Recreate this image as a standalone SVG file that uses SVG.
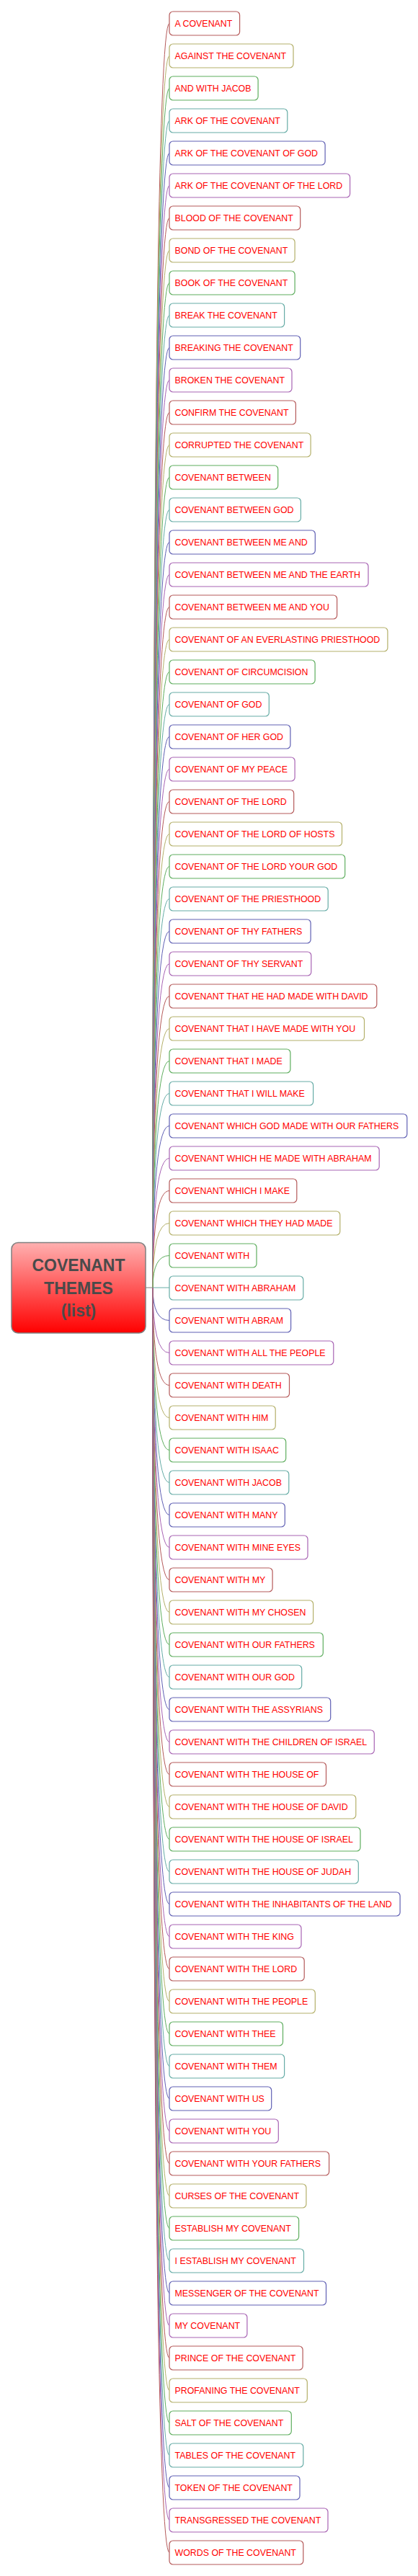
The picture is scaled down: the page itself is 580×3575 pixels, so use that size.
<svg xmlns="http://www.w3.org/2000/svg" width="580" height="3575" viewBox="0 0 580 3575">
<style>
.n rect{fill:#fff;stroke-width:1.2}
.n text{font-family:"Liberation Sans",Arial,sans-serif;font-size:12.4px;fill:#ff0000}
.k0 rect{stroke:#b55a5a}.k1 rect{stroke:#b4b06a}.k2 rect{stroke:#5fae5f}.k3 rect{stroke:#66aca6}.k4 rect{stroke:#6060b4}.k5 rect{stroke:#a864b4}
#edges path{fill:none;stroke-width:1}
.e0{stroke:#b55a5a}.e1{stroke:#b4b06a}.e2{stroke:#5fae5f}.e3{stroke:#66aca6}.e4{stroke:#6060b4}.e5{stroke:#a864b4}
.root text{font-family:"Liberation Sans",Arial,sans-serif;font-size:23px;font-weight:bold;fill:#4a4a4a;text-anchor:middle}
</style>
<defs>
<linearGradient id="rg" x1="0" y1="0" x2="0" y2="1">
<stop offset="0" stop-color="#ffb0b0"/>
<stop offset="1" stop-color="#ff0000"/>
</linearGradient>
</defs>
<g id="edges">
<path d="M202 1787H212" stroke="#808080"/>
<path class="e0" d="M212 1787Q212 32.5 235 32.5"/>
<path class="e1" d="M212 1787Q212 77.5 235 77.5"/>
<path class="e2" d="M212 1787Q212 122.5 235 122.5"/>
<path class="e3" d="M212 1787Q212 167.5 235 167.5"/>
<path class="e4" d="M212 1787Q212 212.5 235 212.5"/>
<path class="e5" d="M212 1787Q212 257.5 235 257.5"/>
<path class="e0" d="M212 1787Q212 302.5 235 302.5"/>
<path class="e1" d="M212 1787Q212 347.5 235 347.5"/>
<path class="e2" d="M212 1787Q212 392.5 235 392.5"/>
<path class="e3" d="M212 1787Q212 437.5 235 437.5"/>
<path class="e4" d="M212 1787Q212 482.5 235 482.5"/>
<path class="e5" d="M212 1787Q212 527.5 235 527.5"/>
<path class="e0" d="M212 1787Q212 572.5 235 572.5"/>
<path class="e1" d="M212 1787Q212 617.5 235 617.5"/>
<path class="e2" d="M212 1787Q212 662.5 235 662.5"/>
<path class="e3" d="M212 1787Q212 707.5 235 707.5"/>
<path class="e4" d="M212 1787Q212 752.5 235 752.5"/>
<path class="e5" d="M212 1787Q212 797.5 235 797.5"/>
<path class="e0" d="M212 1787Q212 842.5 235 842.5"/>
<path class="e1" d="M212 1787Q212 887.5 235 887.5"/>
<path class="e2" d="M212 1787Q212 932.5 235 932.5"/>
<path class="e3" d="M212 1787Q212 977.5 235 977.5"/>
<path class="e4" d="M212 1787Q212 1022.5 235 1022.5"/>
<path class="e5" d="M212 1787Q212 1067.5 235 1067.5"/>
<path class="e0" d="M212 1787Q212 1112.5 235 1112.5"/>
<path class="e1" d="M212 1787Q212 1157.5 235 1157.5"/>
<path class="e2" d="M212 1787Q212 1202.5 235 1202.5"/>
<path class="e3" d="M212 1787Q212 1247.5 235 1247.5"/>
<path class="e4" d="M212 1787Q212 1292.5 235 1292.5"/>
<path class="e5" d="M212 1787Q212 1337.5 235 1337.5"/>
<path class="e0" d="M212 1787Q212 1382.5 235 1382.5"/>
<path class="e1" d="M212 1787Q212 1427.5 235 1427.5"/>
<path class="e2" d="M212 1787Q212 1472.5 235 1472.5"/>
<path class="e3" d="M212 1787Q212 1517.5 235 1517.5"/>
<path class="e4" d="M212 1787Q212 1562.5 235 1562.5"/>
<path class="e5" d="M212 1787Q212 1607.5 235 1607.5"/>
<path class="e0" d="M212 1787Q212 1652.5 235 1652.5"/>
<path class="e1" d="M212 1787Q212 1697.5 235 1697.5"/>
<path class="e2" d="M212 1787Q212 1742.5 235 1742.5"/>
<path class="e3" d="M212 1787L235 1787"/>
<path class="e4" d="M212 1787Q212 1832.5 235 1832.5"/>
<path class="e5" d="M212 1787Q212 1877.5 235 1877.5"/>
<path class="e0" d="M212 1787Q212 1922.5 235 1922.5"/>
<path class="e1" d="M212 1787Q212 1967.5 235 1967.5"/>
<path class="e2" d="M212 1787Q212 2012.5 235 2012.5"/>
<path class="e3" d="M212 1787Q212 2057.5 235 2057.5"/>
<path class="e4" d="M212 1787Q212 2102.5 235 2102.5"/>
<path class="e5" d="M212 1787Q212 2147.5 235 2147.5"/>
<path class="e0" d="M212 1787Q212 2192.5 235 2192.5"/>
<path class="e1" d="M212 1787Q212 2237.5 235 2237.5"/>
<path class="e2" d="M212 1787Q212 2282.5 235 2282.5"/>
<path class="e3" d="M212 1787Q212 2327.5 235 2327.5"/>
<path class="e4" d="M212 1787Q212 2372.5 235 2372.5"/>
<path class="e5" d="M212 1787Q212 2417.5 235 2417.5"/>
<path class="e0" d="M212 1787Q212 2462.5 235 2462.5"/>
<path class="e1" d="M212 1787Q212 2507.5 235 2507.5"/>
<path class="e2" d="M212 1787Q212 2552.5 235 2552.5"/>
<path class="e3" d="M212 1787Q212 2597.5 235 2597.5"/>
<path class="e4" d="M212 1787Q212 2642.5 235 2642.5"/>
<path class="e5" d="M212 1787Q212 2687.5 235 2687.5"/>
<path class="e0" d="M212 1787Q212 2732.5 235 2732.5"/>
<path class="e1" d="M212 1787Q212 2777.5 235 2777.5"/>
<path class="e2" d="M212 1787Q212 2822.5 235 2822.5"/>
<path class="e3" d="M212 1787Q212 2867.5 235 2867.5"/>
<path class="e4" d="M212 1787Q212 2912.5 235 2912.5"/>
<path class="e5" d="M212 1787Q212 2957.5 235 2957.5"/>
<path class="e0" d="M212 1787Q212 3002.5 235 3002.5"/>
<path class="e1" d="M212 1787Q212 3047.5 235 3047.5"/>
<path class="e2" d="M212 1787Q212 3092.5 235 3092.5"/>
<path class="e3" d="M212 1787Q212 3137.5 235 3137.5"/>
<path class="e4" d="M212 1787Q212 3182.5 235 3182.5"/>
<path class="e5" d="M212 1787Q212 3227.5 235 3227.5"/>
<path class="e0" d="M212 1787Q212 3272.5 235 3272.5"/>
<path class="e1" d="M212 1787Q212 3317.5 235 3317.5"/>
<path class="e2" d="M212 1787Q212 3362.5 235 3362.5"/>
<path class="e3" d="M212 1787Q212 3407.5 235 3407.5"/>
<path class="e4" d="M212 1787Q212 3452.5 235 3452.5"/>
<path class="e5" d="M212 1787Q212 3497.5 235 3497.5"/>
<path class="e0" d="M212 1787Q212 3542.5 235 3542.5"/>
</g>
<g id="root" class="root">
<rect x="16" y="1724.5" width="186" height="125.5" rx="9" fill="url(#rg)" stroke="#808080" stroke-width="1.5"/>
<text x="109" y="1764">COVENANT</text>
<text x="109" y="1795.5">THEMES</text>
<text x="109" y="1826.5">(list)</text>
</g>
<g id="n1" class="n k0" transform="translate(235,16)"><rect width="97.6" height="33" rx="5"/><text x="7.5" y="21">A COVENANT</text></g>
<g id="n2" class="n k1" transform="translate(235,61)"><rect width="172" height="33" rx="5"/><text x="7.5" y="21">AGAINST THE COVENANT</text></g>
<g id="n3" class="n k2" transform="translate(235,106)"><rect width="123.1" height="33" rx="5"/><text x="7.5" y="21">AND WITH JACOB</text></g>
<g id="n4" class="n k3" transform="translate(235,151)"><rect width="163.8" height="33" rx="5"/><text x="7.5" y="21">ARK OF THE COVENANT</text></g>
<g id="n5" class="n k4" transform="translate(235,196)"><rect width="216.1" height="33" rx="5"/><text x="7.5" y="21">ARK OF THE COVENANT OF GOD</text></g>
<g id="n6" class="n k5" transform="translate(235,241)"><rect width="250.6" height="33" rx="5"/><text x="7.5" y="21">ARK OF THE COVENANT OF THE LORD</text></g>
<g id="n7" class="n k0" transform="translate(235,286)"><rect width="181.7" height="33" rx="5"/><text x="7.5" y="21">BLOOD OF THE COVENANT</text></g>
<g id="n8" class="n k1" transform="translate(235,331)"><rect width="174.1" height="33" rx="5"/><text x="7.5" y="21">BOND OF THE COVENANT</text></g>
<g id="n9" class="n k2" transform="translate(235,376)"><rect width="174.1" height="33" rx="5"/><text x="7.5" y="21">BOOK OF THE COVENANT</text></g>
<g id="n10" class="n k3" transform="translate(235,421)"><rect width="159.6" height="33" rx="5"/><text x="7.5" y="21">BREAK THE COVENANT</text></g>
<g id="n11" class="n k4" transform="translate(235,466)"><rect width="181.7" height="33" rx="5"/><text x="7.5" y="21">BREAKING THE COVENANT</text></g>
<g id="n12" class="n k5" transform="translate(235,511)"><rect width="170" height="33" rx="5"/><text x="7.5" y="21">BROKEN THE COVENANT</text></g>
<g id="n13" class="n k0" transform="translate(235,556)"><rect width="175.4" height="33" rx="5"/><text x="7.5" y="21">CONFIRM THE COVENANT</text></g>
<g id="n14" class="n k1" transform="translate(235,601)"><rect width="196.1" height="33" rx="5"/><text x="7.5" y="21">CORRUPTED THE COVENANT</text></g>
<g id="n15" class="n k2" transform="translate(235,646)"><rect width="150.7" height="33" rx="5"/><text x="7.5" y="21">COVENANT BETWEEN</text></g>
<g id="n16" class="n k3" transform="translate(235,691)"><rect width="182.4" height="33" rx="5"/><text x="7.5" y="21">COVENANT BETWEEN GOD</text></g>
<g id="n17" class="n k4" transform="translate(235,736)"><rect width="202.3" height="33" rx="5"/><text x="7.5" y="21">COVENANT BETWEEN ME AND</text></g>
<g id="n18" class="n k5" transform="translate(235,781)"><rect width="276" height="33" rx="5"/><text x="7.5" y="21">COVENANT BETWEEN ME AND THE EARTH</text></g>
<g id="n19" class="n k0" transform="translate(235,826)"><rect width="232.6" height="33" rx="5"/><text x="7.5" y="21">COVENANT BETWEEN ME AND YOU</text></g>
<g id="n20" class="n k1" transform="translate(235,871)"><rect width="302.9" height="33" rx="5"/><text x="7.5" y="21">COVENANT OF AN EVERLASTING PRIESTHOOD</text></g>
<g id="n21" class="n k2" transform="translate(235,916)"><rect width="202.1" height="33" rx="5"/><text x="7.5" y="21">COVENANT OF CIRCUMCISION</text></g>
<g id="n22" class="n k3" transform="translate(235,961)"><rect width="138.3" height="33" rx="5"/><text x="7.5" y="21">COVENANT OF GOD</text></g>
<g id="n23" class="n k4" transform="translate(235,1006)"><rect width="167.9" height="33" rx="5"/><text x="7.5" y="21">COVENANT OF HER GOD</text></g>
<g id="n24" class="n k5" transform="translate(235,1051)"><rect width="174.1" height="33" rx="5"/><text x="7.5" y="21">COVENANT OF MY PEACE</text></g>
<g id="n25" class="n k0" transform="translate(235,1096)"><rect width="172.7" height="33" rx="5"/><text x="7.5" y="21">COVENANT OF THE LORD</text></g>
<g id="n26" class="n k1" transform="translate(235,1141)"><rect width="239.5" height="33" rx="5"/><text x="7.5" y="21">COVENANT OF THE LORD OF HOSTS</text></g>
<g id="n27" class="n k2" transform="translate(235,1186)"><rect width="243.7" height="33" rx="5"/><text x="7.5" y="21">COVENANT OF THE LORD YOUR GOD</text></g>
<g id="n28" class="n k3" transform="translate(235,1231)"><rect width="220.2" height="33" rx="5"/><text x="7.5" y="21">COVENANT OF THE PRIESTHOOD</text></g>
<g id="n29" class="n k4" transform="translate(235,1276)"><rect width="196.1" height="33" rx="5"/><text x="7.5" y="21">COVENANT OF THY FATHERS</text></g>
<g id="n30" class="n k5" transform="translate(235,1321)"><rect width="196.8" height="33" rx="5"/><text x="7.5" y="21">COVENANT OF THY SERVANT</text></g>
<g id="n31" class="n k0" transform="translate(235,1366)"><rect width="287.8" height="33" rx="5"/><text x="7.5" y="21">COVENANT THAT HE HAD MADE WITH DAVID</text></g>
<g id="n32" class="n k1" transform="translate(235,1411)"><rect width="270.5" height="33" rx="5"/><text x="7.5" y="21">COVENANT THAT I HAVE MADE WITH YOU</text></g>
<g id="n33" class="n k2" transform="translate(235,1456)"><rect width="167.9" height="33" rx="5"/><text x="7.5" y="21">COVENANT THAT I MADE</text></g>
<g id="n34" class="n k3" transform="translate(235,1501)"><rect width="199.6" height="33" rx="5"/><text x="7.5" y="21">COVENANT THAT I WILL MAKE</text></g>
<g id="n35" class="n k4" transform="translate(235,1546)"><rect width="329.8" height="33" rx="5"/><text x="7.5" y="21">COVENANT WHICH GOD MADE WITH OUR FATHERS</text></g>
<g id="n36" class="n k5" transform="translate(235,1591)"><rect width="291.2" height="33" rx="5"/><text x="7.5" y="21">COVENANT WHICH HE MADE WITH ABRAHAM</text></g>
<g id="n37" class="n k0" transform="translate(235,1636)"><rect width="176.8" height="33" rx="5"/><text x="7.5" y="21">COVENANT WHICH I MAKE</text></g>
<g id="n38" class="n k1" transform="translate(235,1681)"><rect width="236.8" height="33" rx="5"/><text x="7.5" y="21">COVENANT WHICH THEY HAD MADE</text></g>
<g id="n39" class="n k2" transform="translate(235,1726)"><rect width="121" height="33" rx="5"/><text x="7.5" y="21">COVENANT WITH</text></g>
<g id="n40" class="n k3" transform="translate(235,1771)"><rect width="185.8" height="33" rx="5"/><text x="7.5" y="21">COVENANT WITH ABRAHAM</text></g>
<g id="n41" class="n k4" transform="translate(235,1816)"><rect width="168.6" height="33" rx="5"/><text x="7.5" y="21">COVENANT WITH ABRAM</text></g>
<g id="n42" class="n k5" transform="translate(235,1861)"><rect width="227.8" height="33" rx="5"/><text x="7.5" y="21">COVENANT WITH ALL THE PEOPLE</text></g>
<g id="n43" class="n k0" transform="translate(235,1906)"><rect width="166.5" height="33" rx="5"/><text x="7.5" y="21">COVENANT WITH DEATH</text></g>
<g id="n44" class="n k1" transform="translate(235,1951)"><rect width="147.2" height="33" rx="5"/><text x="7.5" y="21">COVENANT WITH HIM</text></g>
<g id="n45" class="n k2" transform="translate(235,1996)"><rect width="161.7" height="33" rx="5"/><text x="7.5" y="21">COVENANT WITH ISAAC</text></g>
<g id="n46" class="n k3" transform="translate(235,2041)"><rect width="165.8" height="33" rx="5"/><text x="7.5" y="21">COVENANT WITH JACOB</text></g>
<g id="n47" class="n k4" transform="translate(235,2086)"><rect width="160.3" height="33" rx="5"/><text x="7.5" y="21">COVENANT WITH MANY</text></g>
<g id="n48" class="n k5" transform="translate(235,2131)"><rect width="192" height="33" rx="5"/><text x="7.5" y="21">COVENANT WITH MINE EYES</text></g>
<g id="n49" class="n k0" transform="translate(235,2176)"><rect width="143.1" height="33" rx="5"/><text x="7.5" y="21">COVENANT WITH MY</text></g>
<g id="n50" class="n k1" transform="translate(235,2221)"><rect width="199.6" height="33" rx="5"/><text x="7.5" y="21">COVENANT WITH MY CHOSEN</text></g>
<g id="n51" class="n k2" transform="translate(235,2266)"><rect width="213.3" height="33" rx="5"/><text x="7.5" y="21">COVENANT WITH OUR FATHERS</text></g>
<g id="n52" class="n k3" transform="translate(235,2311)"><rect width="183.7" height="33" rx="5"/><text x="7.5" y="21">COVENANT WITH OUR GOD</text></g>
<g id="n53" class="n k4" transform="translate(235,2356)"><rect width="223.7" height="33" rx="5"/><text x="7.5" y="21">COVENANT WITH THE ASSYRIANS</text></g>
<g id="n54" class="n k5" transform="translate(235,2401)"><rect width="284.3" height="33" rx="5"/><text x="7.5" y="21">COVENANT WITH THE CHILDREN OF ISRAEL</text></g>
<g id="n55" class="n k0" transform="translate(235,2446)"><rect width="217.5" height="33" rx="5"/><text x="7.5" y="21">COVENANT WITH THE HOUSE OF</text></g>
<g id="n56" class="n k1" transform="translate(235,2491)"><rect width="258.8" height="33" rx="5"/><text x="7.5" y="21">COVENANT WITH THE HOUSE OF DAVID</text></g>
<g id="n57" class="n k2" transform="translate(235,2536)"><rect width="265" height="33" rx="5"/><text x="7.5" y="21">COVENANT WITH THE HOUSE OF ISRAEL</text></g>
<g id="n58" class="n k3" transform="translate(235,2581)"><rect width="262.3" height="33" rx="5"/><text x="7.5" y="21">COVENANT WITH THE HOUSE OF JUDAH</text></g>
<g id="n59" class="n k4" transform="translate(235,2626)"><rect width="320.1" height="33" rx="5"/><text x="7.5" y="21">COVENANT WITH THE INHABITANTS OF THE LAND</text></g>
<g id="n60" class="n k5" transform="translate(235,2671)"><rect width="183" height="33" rx="5"/><text x="7.5" y="21">COVENANT WITH THE KING</text></g>
<g id="n61" class="n k0" transform="translate(235,2716)"><rect width="187.2" height="33" rx="5"/><text x="7.5" y="21">COVENANT WITH THE LORD</text></g>
<g id="n62" class="n k1" transform="translate(235,2761)"><rect width="202.3" height="33" rx="5"/><text x="7.5" y="21">COVENANT WITH THE PEOPLE</text></g>
<g id="n63" class="n k2" transform="translate(235,2806)"><rect width="157.5" height="33" rx="5"/><text x="7.5" y="21">COVENANT WITH THEE</text></g>
<g id="n64" class="n k3" transform="translate(235,2851)"><rect width="159.6" height="33" rx="5"/><text x="7.5" y="21">COVENANT WITH THEM</text></g>
<g id="n65" class="n k4" transform="translate(235,2896)"><rect width="141.7" height="33" rx="5"/><text x="7.5" y="21">COVENANT WITH US</text></g>
<g id="n66" class="n k5" transform="translate(235,2941)"><rect width="151.3" height="33" rx="5"/><text x="7.5" y="21">COVENANT WITH YOU</text></g>
<g id="n67" class="n k0" transform="translate(235,2986)"><rect width="221.6" height="33" rx="5"/><text x="7.5" y="21">COVENANT WITH YOUR FATHERS</text></g>
<g id="n68" class="n k1" transform="translate(235,3031)"><rect width="189.9" height="33" rx="5"/><text x="7.5" y="21">CURSES OF THE COVENANT</text></g>
<g id="n69" class="n k2" transform="translate(235,3076)"><rect width="179.6" height="33" rx="5"/><text x="7.5" y="21">ESTABLISH MY COVENANT</text></g>
<g id="n70" class="n k3" transform="translate(235,3121)"><rect width="186.5" height="33" rx="5"/><text x="7.5" y="21">I ESTABLISH MY COVENANT</text></g>
<g id="n71" class="n k4" transform="translate(235,3166)"><rect width="217.5" height="33" rx="5"/><text x="7.5" y="21">MESSENGER OF THE COVENANT</text></g>
<g id="n72" class="n k5" transform="translate(235,3211)"><rect width="107.9" height="33" rx="5"/><text x="7.5" y="21">MY COVENANT</text></g>
<g id="n73" class="n k0" transform="translate(235,3256)"><rect width="185.1" height="33" rx="5"/><text x="7.5" y="21">PRINCE OF THE COVENANT</text></g>
<g id="n74" class="n k1" transform="translate(235,3301)"><rect width="191.3" height="33" rx="5"/><text x="7.5" y="21">PROFANING THE COVENANT</text></g>
<g id="n75" class="n k2" transform="translate(235,3346)"><rect width="169.3" height="33" rx="5"/><text x="7.5" y="21">SALT OF THE COVENANT</text></g>
<g id="n76" class="n k3" transform="translate(235,3391)"><rect width="185.8" height="33" rx="5"/><text x="7.5" y="21">TABLES OF THE COVENANT</text></g>
<g id="n77" class="n k4" transform="translate(235,3436)"><rect width="181" height="33" rx="5"/><text x="7.5" y="21">TOKEN OF THE COVENANT</text></g>
<g id="n78" class="n k5" transform="translate(235,3481)"><rect width="220" height="33" rx="5"/><text x="7.5" y="21">TRANSGRESSED THE COVENANT</text></g>
<g id="n79" class="n k0" transform="translate(235,3526)"><rect width="185.8" height="33" rx="5"/><text x="7.5" y="21">WORDS OF THE COVENANT</text></g>
</svg>
